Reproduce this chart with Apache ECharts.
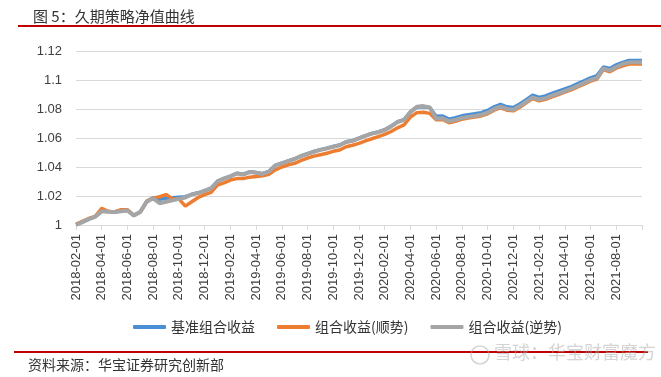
<!DOCTYPE html>
<html>
<head>
<meta charset="utf-8">
<script src="https://cdn.jsdelivr.net/npm/echarts@6/dist/echarts.min.js"></script>
<style>
  html, body { margin: 0; padding: 0; background: #fff; }
  #chart { width: 661px; height: 377px; }
</style>
</head>
<body>
<div id="chart"></div>
<script>
// 半月度日期
var dates = [
  '2018-02-01', '2018-02-15', '2018-03-01', '2018-03-15', '2018-04-01', '2018-04-15',
  '2018-05-01', '2018-05-15', '2018-06-01', '2018-06-15', '2018-07-01', '2018-07-15',
  '2018-08-01', '2018-08-15', '2018-09-01', '2018-09-15', '2018-10-01', '2018-10-15',
  '2018-11-01', '2018-11-15', '2018-12-01', '2018-12-15', '2019-01-01', '2019-01-15',
  '2019-02-01', '2019-02-15', '2019-03-01', '2019-03-15', '2019-04-01', '2019-04-15',
  '2019-05-01', '2019-05-15', '2019-06-01', '2019-06-15', '2019-07-01', '2019-07-15',
  '2019-08-01', '2019-08-15', '2019-09-01', '2019-09-15', '2019-10-01', '2019-10-15',
  '2019-11-01', '2019-11-15', '2019-12-01', '2019-12-15', '2020-01-01', '2020-01-15',
  '2020-02-01', '2020-02-15', '2020-03-01', '2020-03-15', '2020-04-01', '2020-04-15',
  '2020-05-01', '2020-05-15', '2020-06-01', '2020-06-15', '2020-07-01', '2020-07-15',
  '2020-08-01', '2020-08-15', '2020-09-01', '2020-09-15', '2020-10-01', '2020-10-15',
  '2020-11-01', '2020-11-15', '2020-12-01', '2020-12-15', '2021-01-01', '2021-01-15',
  '2021-02-01', '2021-02-15', '2021-03-01', '2021-03-15', '2021-04-01', '2021-04-15',
  '2021-05-01', '2021-05-15', '2021-06-01', '2021-06-15', '2021-07-01', '2021-07-15',
  '2021-08-01', '2021-08-15', '2021-09-01', '2021-09-15', '2021-10-01'
]

// 基准组合收益
var benchmark = [
  1.0005, 1.0022, 1.0042, 1.0058, 1.0097, 1.0093, 1.0091, 1.0097, 1.0102, 1.0067,
  1.0092, 1.0163, 1.0188, 1.0178, 1.0185, 1.0188, 1.0192, 1.0195, 1.0212, 1.0222,
  1.0237, 1.0254, 1.0302, 1.0322, 1.0337, 1.0357, 1.0350, 1.0367, 1.0362, 1.0354,
  1.0370, 1.0412, 1.0427, 1.0442, 1.0457, 1.0477, 1.0492, 1.0507, 1.0520, 1.0530,
  1.0542, 1.0552, 1.0574, 1.0582, 1.0599, 1.0617, 1.0632, 1.0642, 1.0657, 1.0682,
  1.0712, 1.0727, 1.0780, 1.0812, 1.0815, 1.0810, 1.0750, 1.0752, 1.0730, 1.0740,
  1.0753, 1.0760, 1.0767, 1.0775, 1.0790, 1.0815, 1.0831, 1.0815, 1.0810, 1.0835,
  1.0865, 1.0895, 1.0880, 1.0890, 1.0907, 1.0923, 1.0939, 1.0955, 1.0975, 1.0995,
  1.1015, 1.1030, 1.1090, 1.1080, 1.1105, 1.1122, 1.1135, 1.1135, 1.1135
]

// 组合收益(顺势)
var trend = [
  1.0005, 1.0025, 1.0045, 1.0060, 1.0115, 1.0095, 1.0090, 1.0105, 1.0105, 1.0065,
  1.0090, 1.0165, 1.0185, 1.0195, 1.0210, 1.0180, 1.0180, 1.0130, 1.0160, 1.0190,
  1.0210, 1.0225, 1.0275, 1.0290, 1.0310, 1.0320, 1.0320, 1.0330, 1.0335, 1.0340,
  1.0350, 1.0380, 1.0400, 1.0415, 1.0425, 1.0445, 1.0462, 1.0475, 1.0485, 1.0495,
  1.0508, 1.0517, 1.0540, 1.0550, 1.0563, 1.0580, 1.0595, 1.0610, 1.0625, 1.0645,
  1.0670, 1.0690, 1.0745, 1.0775, 1.0778, 1.0770, 1.0725, 1.0728, 1.0705, 1.0715,
  1.0730, 1.0737, 1.0744, 1.0752, 1.0767, 1.0792, 1.0808, 1.0792, 1.0787, 1.0812,
  1.0842, 1.0872, 1.0857, 1.0867, 1.0884, 1.0900, 1.0916, 1.0932, 1.0952, 1.0972,
  1.0992, 1.1007, 1.1072, 1.1057, 1.1082, 1.1098, 1.1110, 1.1110, 1.1110
]

// 组合收益(逆势)
var reverse = [
  1.0000, 1.0020, 1.0040, 1.0057, 1.0095, 1.0092, 1.0090, 1.0095, 1.0100, 1.0065,
  1.0090, 1.0160, 1.0184, 1.0150, 1.0160, 1.0170, 1.0180, 1.0190, 1.0210, 1.0220,
  1.0235, 1.0252, 1.0300, 1.0320, 1.0335, 1.0355, 1.0348, 1.0365, 1.0360, 1.0352,
  1.0368, 1.0410, 1.0425, 1.0440, 1.0455, 1.0475, 1.0490, 1.0505, 1.0518, 1.0528,
  1.0540, 1.0550, 1.0572, 1.0580, 1.0597, 1.0615, 1.0630, 1.0640, 1.0655, 1.0680,
  1.0710, 1.0725, 1.0780, 1.0815, 1.0820, 1.0810, 1.0735, 1.0736, 1.0715, 1.0725,
  1.0738, 1.0745, 1.0752, 1.0760, 1.0775, 1.0800, 1.0816, 1.0800, 1.0795, 1.0820,
  1.0850, 1.0880, 1.0865, 1.0875, 1.0892, 1.0908, 1.0924, 1.0940, 1.0960, 1.0980,
  1.1000, 1.1015, 1.1080, 1.1065, 1.1090, 1.1110, 1.1122, 1.1122, 1.1122
]

var seriesNames = ['基准组合收益', '组合收益(顺势)', '组合收益(逆势)']
var colors = ['#4a8fd6', '#ed7d31', '#a5a5a5']

var chart = echarts.init(document.getElementById('chart'))
chart.setOption({
  animation: false,
  color: colors,
  textStyle: { fontFamily: 'Liberation Sans, Arial, Noto Sans CJK SC, sans-serif' },
  title: {
    text: '图 5：久期策略净值曲线',
    left: 28,
    top: 4,
    textStyle: {
      fontSize: 15,
      fontWeight: 'normal',
      color: '#333',
      fontFamily: 'Noto Sans CJK SC'
    }
  },
  graphic: [
    { type: 'rect', shape: { x: 18, y: 25, width: 643, height: 2 }, style: { fill: '#c00000' } },
    { type: 'rect', shape: { x: 14, y: 351, width: 634, height: 2 }, style: { fill: '#c00000' } },
    {
      type: 'text', left: 28, top: 358,
      style: { text: '资料来源：华宝证券研究创新部', fontSize: 14, fill: '#333', fontFamily: 'Noto Sans CJK SC' }
    },
    {
      type: 'circle', shape: { cx: 480, cy: 355, r: 9 },
      style: { fill: 'none', stroke: 'rgba(170,170,170,0.5)', lineWidth: 1.5 }, z: 100
    },
    {
      type: 'text', left: 494, top: 343,
      style: { text: '雪球：华宝财富魔方', fontSize: 18, fill: 'rgba(170,170,170,0.5)', fontFamily: 'Noto Sans CJK SC' },
      z: 100
    }
  ],
  legend: {
    data: seriesNames,
    left: 128,
    top: 315,
    icon: 'roundRect',
    itemWidth: 33,
    itemHeight: 4,
    itemGap: 22,
    textStyle: { fontSize: 14, color: '#333', fontFamily: 'Noto Sans CJK SC' }
  },
  grid: {
    left: 76,
    right: 19,
    top: 51,
    bottom: 152,
    containLabel: false,
    outerBoundsMode: 'none'
  },
  xAxis: {
    type: 'category',
    data: dates,
    boundaryGap: false,
    axisLine: { lineStyle: { color: '#d9d9d9' } },
    axisTick: { interval: 3, length: 5, lineStyle: { color: '#d9d9d9' } },
    axisLabel: {
      rotate: 90,
      fontSize: 13,
      color: '#404040',
      margin: 9,
      interval: function (index) { return index % 4 === 0 && index < 88 }
    }
  },
  yAxis: {
    type: 'value',
    min: 1,
    max: 1.12,
    interval: 0.02,
    axisLine: { show: false },
    axisTick: { show: false },
    splitLine: { lineStyle: { color: '#d9d9d9' } },
    axisLabel: {
      fontSize: 13,
      color: '#404040',
      margin: 14,
      formatter: function (v) { return String(parseFloat(v.toFixed(2))) }
    }
  },
  series: [
    { name: seriesNames[0], type: 'line', data: benchmark, showSymbol: false, symbol: 'none', lineStyle: { width: 3.5 }, z: 2 },
    { name: seriesNames[1], type: 'line', data: trend, showSymbol: false, symbol: 'none', lineStyle: { width: 3.5 }, z: 3 },
    { name: seriesNames[2], type: 'line', data: reverse, showSymbol: false, symbol: 'none', lineStyle: { width: 4 }, z: 4 }
  ]
})
</script>
</body>
</html>
